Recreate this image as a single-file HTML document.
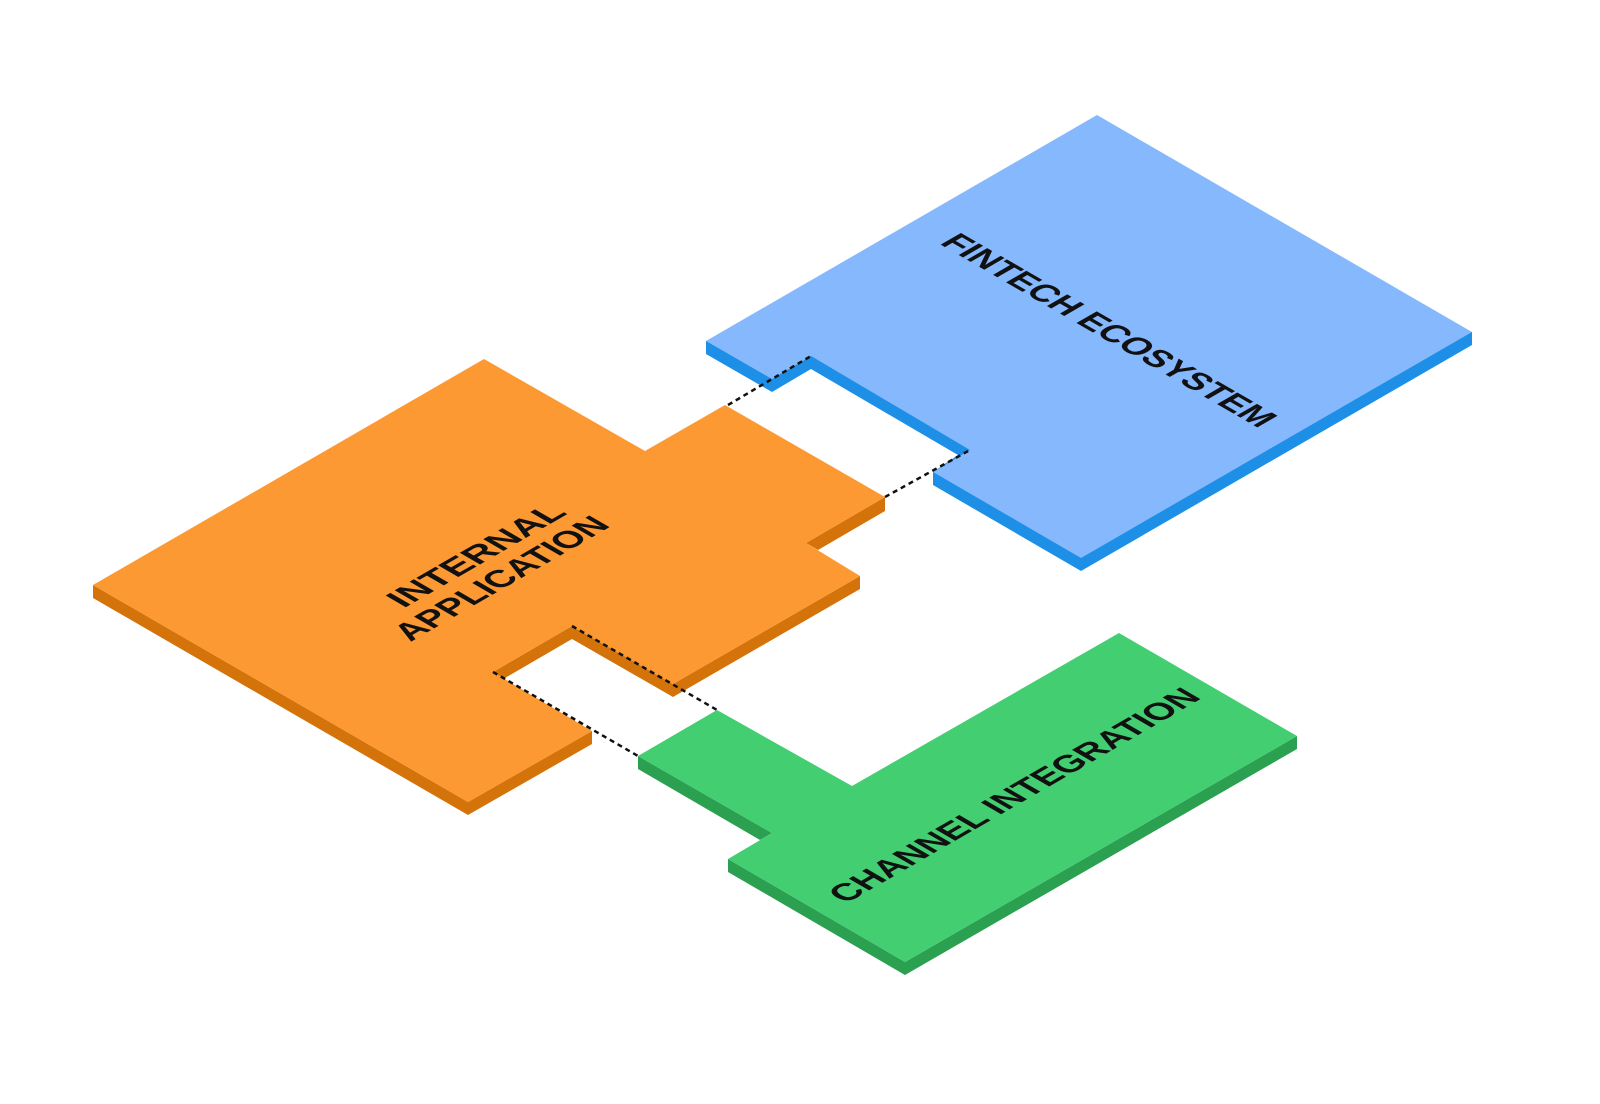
<!DOCTYPE html>
<html><head><meta charset="utf-8"><style>html,body{margin:0;padding:0;background:#fff}svg{display:block}</style></head>
<body>
<svg width="1600" height="1104" viewBox="0 0 1600 1104" xmlns="http://www.w3.org/2000/svg">
<g>
<polygon points="706,341 706,354 772,392 811,369 958,455 933,472 933,485 1081,571 1472,345 1472,332" fill="#1e8fe6"/>
<polygon points="706,341 1097,115 1472,332 1081,558 933,472 970,450 811,356 772,379" fill="#85b8fd"/>
</g>
<g>
<polygon points="93,585 93,598 468,815 592,744 592,731 468,802" fill="#d3730a"/>
<polygon points="885,497 885,511 818,550 806,543" fill="#d3730a"/>
<polygon points="860,576 860,589 673,697 572,639 493,685 493,672 572,626 673,684" fill="#d3730a"/>
<polygon points="93,585 484,359 645,451 725,405 885,497 806,543 860,576 673,684 572,626 493,672 592,731 468,802" fill="#fd9933"/>
</g>
<g>
<polygon points="638,756 638,769 760,840 772,833" fill="#2aa050"/>
<polygon points="728,859 728,872 905,975 1297,749 1297,736 905,962" fill="#2aa050"/>
<polygon points="638,756 717,710 852,786 1119,633 1297,736 905,962 728,859 772,833" fill="#43ce72"/>
</g>
<g stroke="#111" stroke-width="2.5" stroke-dasharray="5,4" fill="none">
<line x1="728" y1="405" x2="811" y2="356"/>
<line x1="885" y1="497" x2="970" y2="450"/>
<line x1="572" y1="626" x2="717" y2="710"/>
<line x1="493" y1="672" x2="638" y2="756"/>
</g>
<g font-family="Liberation Sans, sans-serif" font-weight="bold" fill="#111" text-anchor="middle">
<text transform="matrix(0.866,0.5,-0.866,0.5,1099,336)" font-size="34" textLength="370" lengthAdjust="spacingAndGlyphs" x="0" y="0">FINTECH ECOSYSTEM</text>
<text transform="matrix(0.866,-0.5,0.866,0.5,486,561)" font-size="34" textLength="190" lengthAdjust="spacingAndGlyphs" x="0" y="0">INTERNAL</text>
<text transform="matrix(0.866,-0.5,0.866,0.5,511,584)" font-size="34" textLength="232" lengthAdjust="spacingAndGlyphs" x="0" y="0">APPLICATION</text>
<text transform="matrix(0.866,-0.5,0.866,0.5,1024,801)" font-size="34" textLength="412" lengthAdjust="spacingAndGlyphs" x="0" y="0">CHANNEL INTEGRATION</text>
</g>
</svg>
</body></html>
